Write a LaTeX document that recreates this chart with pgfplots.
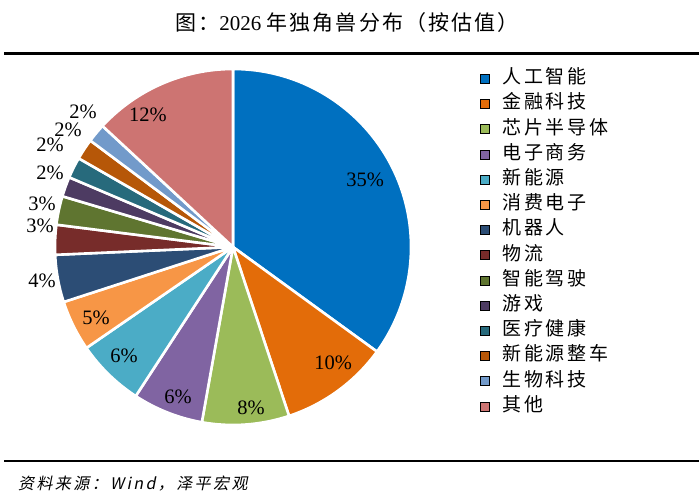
\documentclass[border=0pt]{standalone}
\usepackage{fontspec}
\usepackage{pgfplots}
\usepackage{pgfplotstable}
\pgfplotsset{compat=1.18}
\setmainfont{Liberation Serif}
\newfontfamily\cjk{Noto Sans CJK SC}
\newfontfamily\cjktitle[LetterSpace=10]{Noto Sans CJK SC}
\newfontfamily\cjkleg[LetterSpace=14]{Noto Sans CJK SC}
\newfontfamily\cjkit[FakeSlant=0.2,LetterSpace=15]{Noto Sans CJK SC}
\newcommand\pctfont{\fontsize{20.5bp}{22bp}\selectfont}

\definecolor{c0}{HTML}{0070C0}
\definecolor{c1}{HTML}{E36C09}
\definecolor{c2}{HTML}{9BBB59}
\definecolor{c3}{HTML}{8064A2}
\definecolor{c4}{HTML}{4BACC6}
\definecolor{c5}{HTML}{F79646}
\definecolor{c6}{HTML}{2C4D75}
\definecolor{c7}{HTML}{772C2A}
\definecolor{c8}{HTML}{5F7530}
\definecolor{c9}{HTML}{4D3B62}
\definecolor{c10}{HTML}{276A7C}
\definecolor{c11}{HTML}{B65708}
\definecolor{c12}{HTML}{729ACA}
\definecolor{c13}{HTML}{CD7472}

% share (%), label position (axis units), label text
\pgfplotstableread{
val  lx      ly      lab
35.0  0.742   0.376  35
9.9   0.562  -0.652  10
7.9   0.101  -0.904  8
6.4  -0.309  -0.843  6
6.2  -0.612  -0.612  6
4.6  -0.770  -0.399  5
4.3  -1.073  -0.191  4
2.7  -1.084   0.118  3
2.6  -1.073   0.242  3
1.8  -1.028   0.416  2
1.9  -1.028   0.573  2
1.9  -0.927   0.657  2
1.7  -0.843   0.758  2
13.1 -0.478   0.742  12
}\piedata

\begin{document}
\begin{tikzpicture}
\useasboundingbox[fill=white] (0,0) rectangle (700bp,491bp);
% title and rules
\node[font=\fontsize{21bp}{23bp}\selectfont] at (347bp,468bp) {{\cjktitle 图：}2026 {\cjktitle 年独角兽分布（按估值）}};
\draw[line width=3bp] (4bp,437bp) -- (699bp,437bp);
\draw[line width=2.5bp] (4bp,30bp) -- (699bp,30bp);
\node[anchor=west, inner sep=0pt, font=\fontsize{16bp}{18bp}\selectfont\cjkit] at (18bp,7bp) {资料来源：Wind，泽平宏观};

\begin{axis}[
  hide axis, clip=false, scale only axis,
  width=356bp, height=356bp,
  xmin=-1, xmax=1, ymin=-1, ymax=1,
  at={(55bp,66bp)}, anchor=south west,
  legend image code/.code={\fill[#1] (0bp,-4.5bp) rectangle (9bp,4.5bp);},
  legend cell align=left,
  legend style={draw=none, fill=none, inner sep=0pt, outer sep=0pt,
    at={(axis description cs:1.194,0.995)}, anchor=north west,
    row sep=9.2bp, column sep=13bp,
    nodes={inner sep=0pt, text height=13bp, text depth=3bp},
    font=\fontsize{19bp}{21bp}\selectfont\cjkleg},
]
\addlegendimage{fill=c0}\addlegendentry{人工智能}
\addlegendimage{fill=c1}\addlegendentry{金融科技}
\addlegendimage{fill=c2}\addlegendentry{芯片半导体}
\addlegendimage{fill=c3}\addlegendentry{电子商务}
\addlegendimage{fill=c4}\addlegendentry{新能源}
\addlegendimage{fill=c5}\addlegendentry{消费电子}
\addlegendimage{fill=c6}\addlegendentry{机器人}
\addlegendimage{fill=c7}\addlegendentry{物流}
\addlegendimage{fill=c8}\addlegendentry{智能驾驶}
\addlegendimage{fill=c9}\addlegendentry{游戏}
\addlegendimage{fill=c10}\addlegendentry{医疗健康}
\addlegendimage{fill=c11}\addlegendentry{新能源整车}
\addlegendimage{fill=c12}\addlegendentry{生物科技}
\addlegendimage{fill=c13}\addlegendentry{其他}

\def\cum{0}
\pgfplotsforeachungrouped \i in {0,...,13}{%
  \pgfplotstablegetelem{\i}{val}\of\piedata \let\v\pgfplotsretval
  \pgfmathsetmacro\sa{90-3.6*\cum}%
  \pgfmathsetmacro\ea{90-3.6*(\cum+\v)}%
  \edef\next{\noexpand\fill[fill=c\i, draw=white, line width=2.6bp, line join=round]
    (axis cs:0,0) -- (axis cs:{cos(\sa)},{sin(\sa)})
    arc[start angle=\sa, end angle=\ea, radius=178bp] -- cycle;}%
  \next
  \pgfmathsetmacro\cum{\cum+\v}%
}
\pgfplotsforeachungrouped \i in {0,...,13}{%
  \pgfplotstablegetelem{\i}{lx}\of\piedata \let\plx\pgfplotsretval
  \pgfplotstablegetelem{\i}{ly}\of\piedata \let\ply\pgfplotsretval
  \pgfplotstablegetelem{\i}{lab}\of\piedata \let\plab\pgfplotsretval
  \edef\next{\noexpand\node[font=\noexpand\pctfont, inner sep=0pt] at (axis cs:\plx,\ply) {\plab\noexpand\%};}%
  \next
}
\end{axis}
\end{tikzpicture}
\end{document}
